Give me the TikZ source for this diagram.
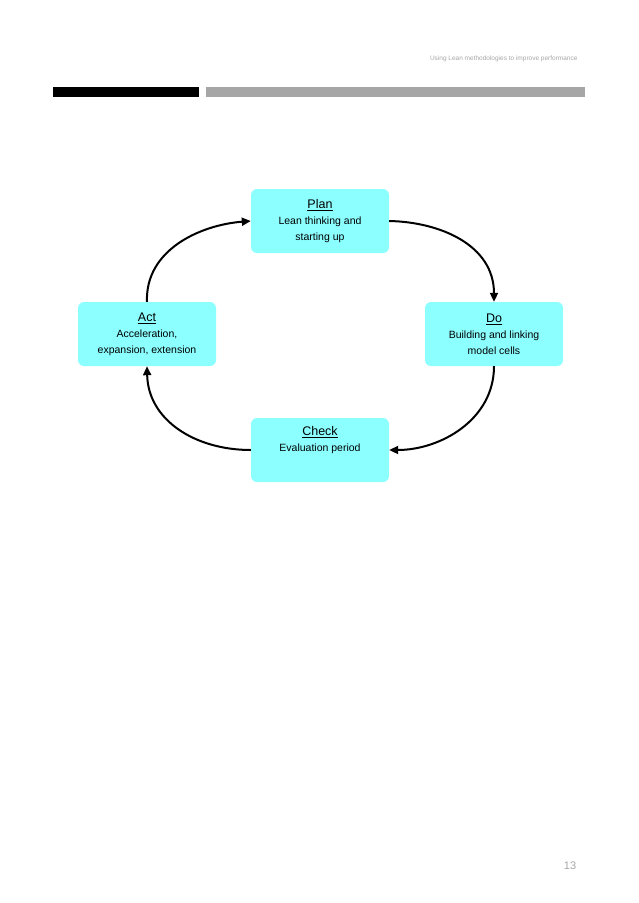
\documentclass[tikz,border=0pt]{standalone}
\usepackage{fontspec}
\setmainfont{Liberation Sans}
\usetikzlibrary{arrows.meta}
\begin{document}
\begin{tikzpicture}[x=1pt,y=-1pt,
 box/.style={fill={rgb,255:red,140;green,255;blue,255},rounded corners=6pt,minimum width=138pt,minimum height=64pt,align=center,font=\fontsize{10.5}{16}\selectfont,inner sep=0pt},
 arr/.style={line width=2pt,-{Triangle[length=9pt,width=8pt]}}]
\useasboundingbox (0,0) rectangle (638,903);
\node[anchor=east,text=gray!70,font=\fontsize{6.5}{8}\selectfont] (hdr) at (581,59) {Using Lean methodologies to improve performance};
\fill[black] (53,87) rectangle (199,97);
\fill[gray!70] (206,87) rectangle (585,97);
\node[box] (plan) at (320,221) {{\fontsize{12.5}{16}\selectfont\underline{Plan}}\\Lean thinking and\\starting up};
\node[box] (act) at (147,334) {{\fontsize{12.5}{16}\selectfont\underline{Act}}\\Acceleration,\\expansion, extension};
\node[box] (do) at (494,334) {{\fontsize{12.5}{16}\selectfont\underline{Do}}\\Building and linking\\model cells};
\node[box] (check) at (320,450) {{\fontsize{12.5}{16}\selectfont\underline{Check}}\\Evaluation period\\[6pt]};
\draw[arr] (act.north) .. controls (145,250) and (200,225) .. (plan.west);
\draw[arr] (plan.east) .. controls (440,222) and (494,245) .. (do.north);
\draw[arr] (do.south) .. controls (494,420) and (440,450) .. (check.east);
\draw[arr] (check.west) .. controls (195,450) and (148,420) .. (act.south);
\node[text=gray!70,font=\fontsize{11}{13}\selectfont] (pg) at (570,866) {13};
\end{tikzpicture}
\end{document}
